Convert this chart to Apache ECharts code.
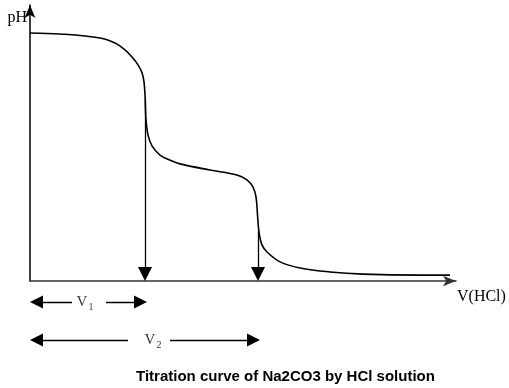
<!DOCTYPE html>
<html>
<head>
<meta charset="utf-8">
<script src="https://cdn.jsdelivr.net/npm/echarts@6/dist/echarts.min.js"></script>
<style>html,body{margin:0;padding:0;background:#fff;}#c{width:509px;height:388px;}</style>
</head>
<body>
<div id="c"></div>
<script>
// Titration curve: volume of HCl (arbitrary units) vs pH (arbitrary scale)
const volume = [0, 3.0, 7.0, 8.5, 9.5, 10.2, 10.8, 11.2, 11.4, 11.5, 11.55, 11.6, 11.8, 12.2, 13.0, 14.0, 15.0, 18.0, 20.7, 21.7, 22.3, 22.6, 22.75, 22.9, 23.2, 23.7, 25.0, 27.0, 30.0, 33.3, 39.0, 42.0];
const pH     = [12.58, 12.53, 12.33, 12.07, 11.72, 11.36, 10.96, 10.56, 10.10, 9.43, 8.68, 8.17, 7.41, 6.85, 6.39, 6.13, 5.94, 5.63, 5.38, 5.13, 4.76, 4.27, 3.35, 2.48, 1.83, 1.47, 0.97, 0.66, 0.46, 0.35, 0.30, 0.30];
// Equivalence points
const V1 = 11.5, V2 = 22.8;
const V1startPH = 9.2, V2startPH = 2.54;
const xMax = 42.6, yMax = 14;
// annotation rows below the axis (pH units, outside the plotted range)
const rowV1 = -1.07, rowV2 = -2.99;
// [tail, head-centre] of each dimension arrow
const V1arrows = [[4.2, 0.65], [7.6, 11.05]];
const V2arrows = [[9.8, 0.65], [14.0, 22.35]];
const vArrowHead = 0.36;   // pH level of the head centre of the equivalence arrows
const V1labelX = 5.5, V2labelX = 12.3;
const titleText = 'Titration curve of Na2CO3 by HCl solution';

const curve = volume.map((v, i) => [v, pH[i]]);
const vArrows = [
  {coords: [[V1, V1startPH], [V1, vArrowHead]]},
  {coords: [[V2, V2startPH], [V2, vArrowHead]]}
];
const hArrows = [
  {coords: [[V1arrows[0][0], rowV1], [V1arrows[0][1], rowV1]]},
  {coords: [[V1arrows[1][0], rowV1], [V1arrows[1][1], rowV1]]},
  {coords: [[V2arrows[0][0], rowV2], [V2arrows[0][1], rowV2]]},
  {coords: [[V2arrows[1][0], rowV2], [V2arrows[1][1], rowV2]]}
];
const serif = '"Liberation Serif", "DejaVu Serif", serif';
const chart = echarts.init(document.getElementById('c'));
chart.setOption({
  animation: false,
  backgroundColor: '#fff',
  title: {
    text: titleText, left: 136, top: 369,
    textStyle: {fontFamily: '"Liberation Sans", Arial, sans-serif', fontSize: 15, fontWeight: 'bold', color: '#000'},
    padding: 0
  },
  grid: {left: 30, right: 53, top: 5, bottom: 107},
  xAxis: {
    type: 'value', min: 0, max: xMax,
    name: 'V(HCl)', nameLocation: 'end', nameGap: 1,
    nameTextStyle: {fontFamily: serif, fontSize: 16, color: '#000', align: 'left', verticalAlign: 'top', padding: [8, 0, 0, 0]},
    axisLine: {show: true, symbol: ['none', 'arrow'], symbolSize: [8, 13], lineStyle: {color: '#333', width: 1.5}},
    axisTick: {show: false}, axisLabel: {show: false}, splitLine: {show: false}
  },
  yAxis: {
    type: 'value', min: 0, max: yMax,
    name: 'pH', nameLocation: 'end', nameGap: 0,
    nameTextStyle: {fontFamily: serif, fontSize: 16, color: '#000', align: 'right', verticalAlign: 'top', padding: [5, 3, 0, 0]},
    axisLine: {show: true, onZero: false, symbol: ['none', 'arrow'], symbolSize: [8, 13], lineStyle: {color: '#000', width: 1.5}},
    axisTick: {show: false}, axisLabel: {show: false}, splitLine: {show: false}
  },
  series: [
    {
      type: 'line', data: curve, smooth: 0.35, showSymbol: false,
      lineStyle: {color: '#000', width: 1.6}
    },
    {
      type: 'lines', coordinateSystem: 'cartesian2d', clip: false,
      symbol: ['none', 'triangle'], symbolSize: [9, 14],
      lineStyle: {color: '#000', width: 1.3, opacity: 1},
      data: vArrows
    },
    {
      type: 'lines', coordinateSystem: 'cartesian2d', clip: false,
      symbol: ['none', 'triangle'], symbolSize: [8, 13],
      lineStyle: {color: '#000', width: 1.3, opacity: 1},
      data: hArrows
    },
    {
      type: 'scatter', clip: false, symbolSize: 0,
      data: [[V1labelX, rowV1, '1'], [V2labelX, rowV2, '2']],
      label: {
        show: true, position: 'inside',
        formatter: p => '{v|V}{s|' + p.value[2] + '}',
        rich: {
          v: {fontFamily: serif, fontSize: 15, color: '#000'},
          s: {fontFamily: serif, fontSize: 10, color: '#000', padding: [10, 0, 0, 1]}
        }
      }
    }
  ]
});
</script>
</body>
</html>
